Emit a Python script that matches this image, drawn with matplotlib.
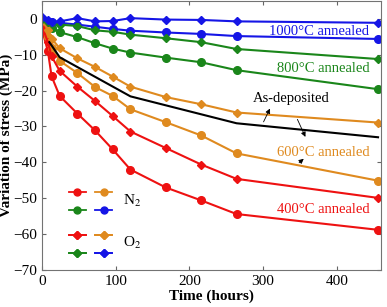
import matplotlib.pyplot as plt
from matplotlib.lines import Line2D

plt.rcParams["font.family"] = ["Liberation Serif", "DejaVu Serif"]
plt.rcParams["mathtext.fontset"] = "stix"

# time points (hours)
t = [0, 8, 13, 24, 48, 72, 96, 120, 168, 216, 264, 456]

# N2 (circles)
n2_400 = [-3.0, -9.0, -16.0, -21.5, -26.4, -31.1, -36.4, -42.0, -47.0, -50.6, -54.4, -58.8]
n2_600 = [-1.0, -5.0, -8.0, -11.7, -15.1, -19.0, -21.5, -25.2, -28.8, -32.5, -37.5, -45.1]
n2_800 = [0.0, -1.5, -2.5, -3.7, -5.1, -6.8, -8.3, -9.4, -10.8, -12.1, -14.3, -19.6]
n2_1000 = [0.0, -0.8, -1.0, -1.1, -1.6, -2.2, -2.8, -3.3, -3.8, -4.2, -4.8, -5.6]

# O2 (diamonds)
o2_400 = [-2.0, -6.5, -10.4, -14.5, -18.9, -22.9, -27.1, -31.4, -36.0, -40.6, -44.6, -49.9]
o2_600 = [-0.5, -3.0, -5.5, -8.2, -11.0, -13.4, -16.1, -18.9, -21.8, -23.8, -26.1, -28.9]
o2_800 = [0.0, -0.8, -1.2, -1.6, -2.0, -3.2, -3.6, -4.4, -5.4, -6.5, -8.4, -11.2]
o2_1000 = [0.5, -0.3, -0.8, -0.7, 0.2, -0.7, -0.6, 0.2, -0.2, -0.3, -0.7, -1.1]

# as-deposited (no markers)
t_dep = [10, 24, 120, 264, 456]
asdep = [-6.5, -10.7, -21.6, -29.1, -33.0]

red = "#ee1111"
orange = "#df8a1f"
green = "#1a861a"
blue = "#1515e6"

fig = plt.figure(figsize=(3.87, 3.07), dpi=100)
ax = fig.add_axes([0.1085, 0.1205, 0.876, 0.8765])

for y, c in [(n2_400, red), (n2_600, orange), (n2_800, green), (n2_1000, blue)]:
    ax.plot(t, y, color=c, lw=1.5, marker="o", ms=5.5)
for y, c in [(o2_400, red), (o2_600, orange), (o2_800, green), (o2_1000, blue)]:
    ax.plot(t, y, color=c, lw=1.5, marker="D", ms=4.5)
ax.plot(t_dep, asdep, color="black", lw=1.5)

ax.set_xlim(0, 460)
ax.set_ylim(-70, 5)
ax.set_xticks([0, 100, 200, 300, 400])
ax.set_yticks(range(-70, 1, 10))
ax.tick_params(direction="in", top=True, right=True, labelsize=11,
               length=3, color="0.4")
for s in ax.spines.values():
    s.set_color("0.45")
    s.set_linewidth(0.8)

ax.set_xlabel("Time (hours)", fontsize=11, fontweight="bold", labelpad=1)
ax.set_ylabel("Variation of stress (MPa)", fontsize=11, fontweight="bold",
              labelpad=0)

fs = 10.5
ax.text(444, -3.6, "1000°C annealed", color=blue, fontsize=fs, ha="right", va="center")
ax.text(444, -13.7, "800°C annealed", color=green, fontsize=fs, ha="right", va="center")
ax.text(338, -22.1, "As-deposited", color="black", fontsize=fs, ha="center", va="center")
ax.text(444, -37.3, "600°C annealed", color=orange, fontsize=fs, ha="right", va="center")
ax.text(444, -53.2, "400°C annealed", color=red, fontsize=fs, ha="right", va="center")

arrow = dict(arrowstyle="-|>", color="black", lw=0.6, mutation_scale=7)
ax.annotate("", xy=(311, -24.3), xytext=(299, -29.4), arrowprops=arrow)
ax.annotate("", xy=(359, -33.6), xytext=(345, -27.3), arrowprops=arrow)
ax.annotate("", xy=(358, -38.5), xytext=(346, -40.6), arrowprops=arrow)


# legend: 2x2 marker grid for each atmosphere
def grid_legend(marker, ms, label, loc, label_y):
    hs = [Line2D([], [], color=c, lw=1.3, marker=marker, ms=ms)
          for c in (red, green, orange, blue)]
    leg = ax.legend(hs, [""] * 4, ncol=2, loc="upper left",
                    bbox_to_anchor=loc, frameon=False, handlelength=1.25,
                    handletextpad=0, columnspacing=0.65, labelspacing=0.35,
                    borderpad=0)
    ax.add_artist(leg)
    ax.text(0.239, label_y, label, transform=ax.transAxes,
            fontsize=11, va="center", ha="left")


grid_legend("o", 5, "N$_2$", (0.058, 0.335), 0.255)
grid_legend("D", 4, "O$_2$", (0.058, 0.175), 0.1)

fig.savefig("out.png", dpi=100)
